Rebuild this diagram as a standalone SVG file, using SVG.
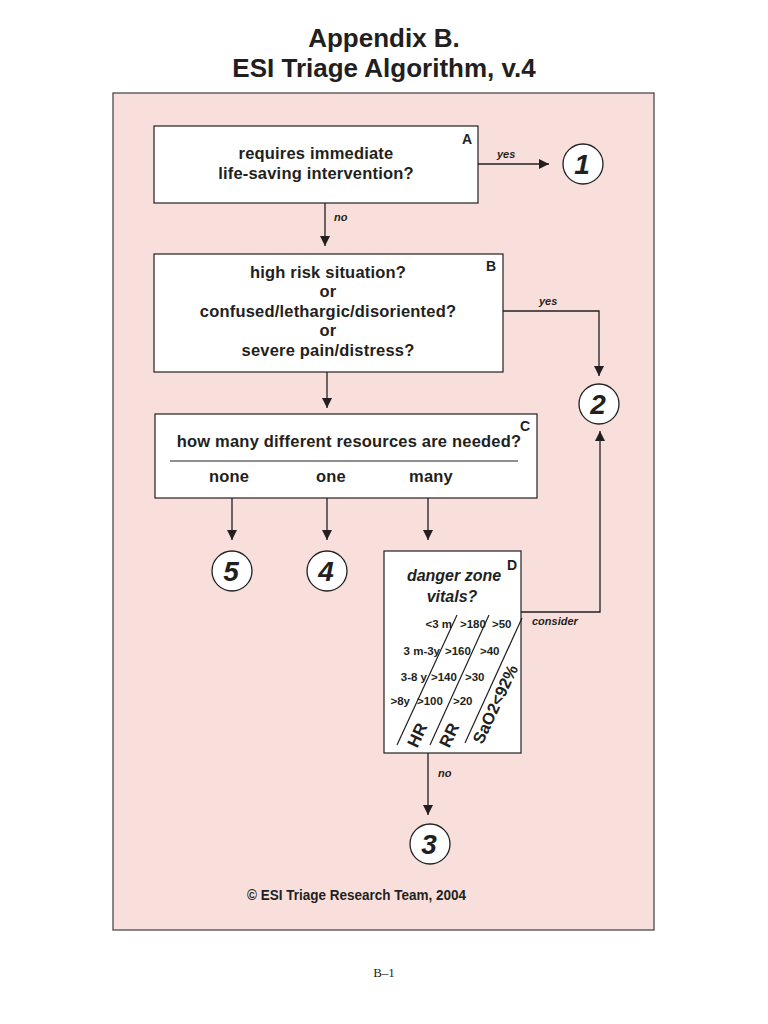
<svg xmlns="http://www.w3.org/2000/svg" width="768" height="1024" viewBox="0 0 768 1024">
<defs>
<marker id="ah" viewBox="0 0 10 10" refX="10" refY="5" markerWidth="10" markerHeight="10" markerUnits="userSpaceOnUse" orient="auto">
<path d="M0,0 L10,5 L0,10 Z" fill="#231f20"/>
</marker>
<style>
.t{font-family:"Liberation Sans",Arial,sans-serif;font-weight:bold;fill:#231f20}
.box{fill:#fff;stroke:#231f20;stroke-width:1.2}
.q{font-size:16.5px;letter-spacing:0.2px;text-anchor:middle}
.lbl{font-size:14px;text-anchor:middle}
.small{font-size:11px;font-style:italic}
.circ{fill:#fff;stroke:#231f20;stroke-width:1.3}
.num{font-size:28px;font-style:italic;text-anchor:middle}
.con{fill:none;stroke:#231f20;stroke-width:1.3}
.v{font-size:11.5px}
.diag{stroke:#231f20;stroke-width:1.2}
</style>
</defs>
<rect width="768" height="1024" fill="#fff"/>
<text class="t" x="384" y="47" font-size="26" text-anchor="middle">Appendix B.</text>
<text class="t" x="384" y="77" font-size="26" text-anchor="middle">ESI Triage Algorithm, v.4</text>
<rect x="113" y="93" width="541" height="837" fill="#f9dfdc" stroke="#4a4a4a" stroke-width="1.3"/>

<g id="connectors">
<line class="con" x1="478" y1="164" x2="549" y2="164" marker-end="url(#ah)"/>
<text class="t small" x="497" y="158">yes</text>
<line class="con" x1="325" y1="203" x2="325" y2="246" marker-end="url(#ah)"/>
<text class="t small" x="334" y="221">no</text>
<polyline class="con" points="503,311 599,311 599,376" marker-end="url(#ah)"/>
<text class="t small" x="539" y="305">yes</text>
<line class="con" x1="327" y1="372" x2="327" y2="408" marker-end="url(#ah)"/>
<line class="con" x1="232" y1="498" x2="232" y2="540" marker-end="url(#ah)"/>
<line class="con" x1="327" y1="498" x2="327" y2="540" marker-end="url(#ah)"/>
<line class="con" x1="428" y1="498" x2="428" y2="540" marker-end="url(#ah)"/>
<polyline class="con" points="521,612 600,612 600,431" marker-end="url(#ah)"/>
<text class="t small" x="532" y="625">consider</text>
<line class="con" x1="428" y1="753" x2="428" y2="815" marker-end="url(#ah)"/>
<text class="t small" x="438" y="777">no</text>
</g>

<g id="nodeA">
<rect class="box" x="154" y="126" width="324" height="77"/>
<text class="t lbl" x="467" y="144">A</text>
<text class="t q" x="316" y="159">requires immediate</text>
<text class="t q" x="316" y="179">life-saving intervention?</text>
</g>

<g id="nodeB">
<rect class="box" x="154" y="254" width="349" height="118"/>
<text class="t lbl" x="491" y="271">B</text>
<text class="t q" x="328" y="278">high risk situation?</text>
<text class="t q" x="328" y="297">or</text>
<text class="t q" x="328" y="317">confused/lethargic/disoriented?</text>
<text class="t q" x="328" y="336">or</text>
<text class="t q" x="328" y="356">severe pain/distress?</text>
</g>

<g id="nodeC">
<rect class="box" x="155" y="414" width="382" height="84"/>
<text class="t lbl" x="525" y="431">C</text>
<text class="t q" x="349" y="447">how many different resources are needed?</text>
<line x1="170" y1="461" x2="518" y2="461" stroke="#231f20" stroke-width="1.2"/>
<text class="t q" x="229" y="482">none</text>
<text class="t q" x="331" y="482">one</text>
<text class="t q" x="431" y="482">many</text>
</g>

<g id="nodeD">
<rect class="box" x="384" y="551" width="137" height="202"/>
<text class="t lbl" x="512" y="570">D</text>
<text class="t" x="454" y="581" font-size="16" font-style="italic" text-anchor="middle">danger zone</text>
<text class="t" x="452" y="602" font-size="16" font-style="italic" text-anchor="middle">vitals?</text>
<line class="diag" x1="457" y1="615" x2="397" y2="745"/>
<line class="diag" x1="489" y1="615" x2="430" y2="745"/>
<line class="diag" x1="522" y1="618" x2="465" y2="743"/>
<text class="t v" x="452" y="628" text-anchor="end">&lt;3 m</text>
<text class="t v" x="460" y="628">&gt;180</text>
<text class="t v" x="492" y="628">&gt;50</text>
<text class="t v" x="440" y="655" text-anchor="end">3 m-3y</text>
<text class="t v" x="445" y="655">&gt;160</text>
<text class="t v" x="480" y="655">&gt;40</text>
<text class="t v" x="427" y="681" text-anchor="end">3-8 y</text>
<text class="t v" x="431" y="681">&gt;140</text>
<text class="t v" x="465" y="681">&gt;30</text>
<text class="t v" x="410" y="705" text-anchor="end">&gt;8y</text>
<text class="t v" x="417" y="705">&gt;100</text>
<text class="t v" x="453" y="705">&gt;20</text>
<text class="t" font-size="17" text-anchor="middle" transform="translate(417,735) rotate(-65)" x="0" y="6">HR</text>
<text class="t" font-size="17" text-anchor="middle" transform="translate(449,735) rotate(-65)" x="0" y="6">RR</text>
<text class="t" font-size="16.5" text-anchor="middle" transform="translate(495,704) rotate(-65)" x="0" y="6">SaO2&lt;92%</text>
</g>

<g id="n1"><circle class="circ" cx="583" cy="164" r="20"/><text class="t num" x="582" y="174">1</text></g>
<g id="n2"><circle class="circ" cx="599" cy="404" r="20"/><text class="t num" x="598" y="414">2</text></g>
<g id="n5"><circle class="circ" cx="232" cy="571" r="20"/><text class="t num" x="231" y="581">5</text></g>
<g id="n4"><circle class="circ" cx="327" cy="571" r="20"/><text class="t num" x="326" y="581">4</text></g>
<g id="n3"><circle class="circ" cx="430" cy="844" r="20"/><text class="t num" x="429" y="854">3</text></g>

<text class="t" x="247" y="900" font-size="14" textLength="219" lengthAdjust="spacingAndGlyphs">© ESI Triage Research Team, 2004</text>
<text x="384" y="977" font-family="'Liberation Serif',serif" font-size="13" fill="#231f20" text-anchor="middle">B–1</text>
</svg>
